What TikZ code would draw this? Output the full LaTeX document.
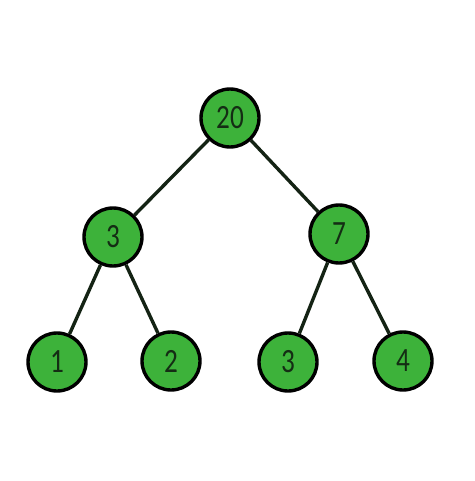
\documentclass[tikz,border=0pt]{standalone}
\usepackage{fontspec}
\setmainfont{Carlito}
\definecolor{nodegreen}{RGB}{61,178,58}
\definecolor{edgedark}{RGB}{20,35,20}
\definecolor{textdark}{RGB}{20,45,20}
\begin{document}
\begin{tikzpicture}[x=1pt,y=-1pt,
  tnode/.style={circle,draw=black,fill=nodegreen,line width=3.4pt,minimum size=58pt,inner sep=0pt,
    font=\fontsize{34}{36}\selectfont,text=textdark},
  tedge/.style={draw=edgedark,line width=3.4pt}]
\useasboundingbox (0,0) rectangle (474,481);
\node[tnode] (r) at (230,118) {\scalebox{0.8}[1]{20}};
\node[tnode] (a) at (113,237) {\scalebox{0.8}[1]{3}};
\node[tnode] (b) at (339,234) {\scalebox{0.8}[1]{7}};
\node[tnode] (c) at (57,362) {\scalebox{0.8}[1]{1}};
\node[tnode] (d) at (171,361) {\scalebox{0.8}[1]{2}};
\node[tnode] (e) at (288,362) {\scalebox{0.8}[1]{3}};
\node[tnode] (f) at (403,361) {\scalebox{0.8}[1]{4}};
\draw[tedge] (r) -- (a);
\draw[tedge] (r) -- (b);
\draw[tedge] (a) -- (c);
\draw[tedge] (a) -- (d);
\draw[tedge] (b) -- (e);
\draw[tedge] (b) -- (f);
\end{tikzpicture}
\end{document}
